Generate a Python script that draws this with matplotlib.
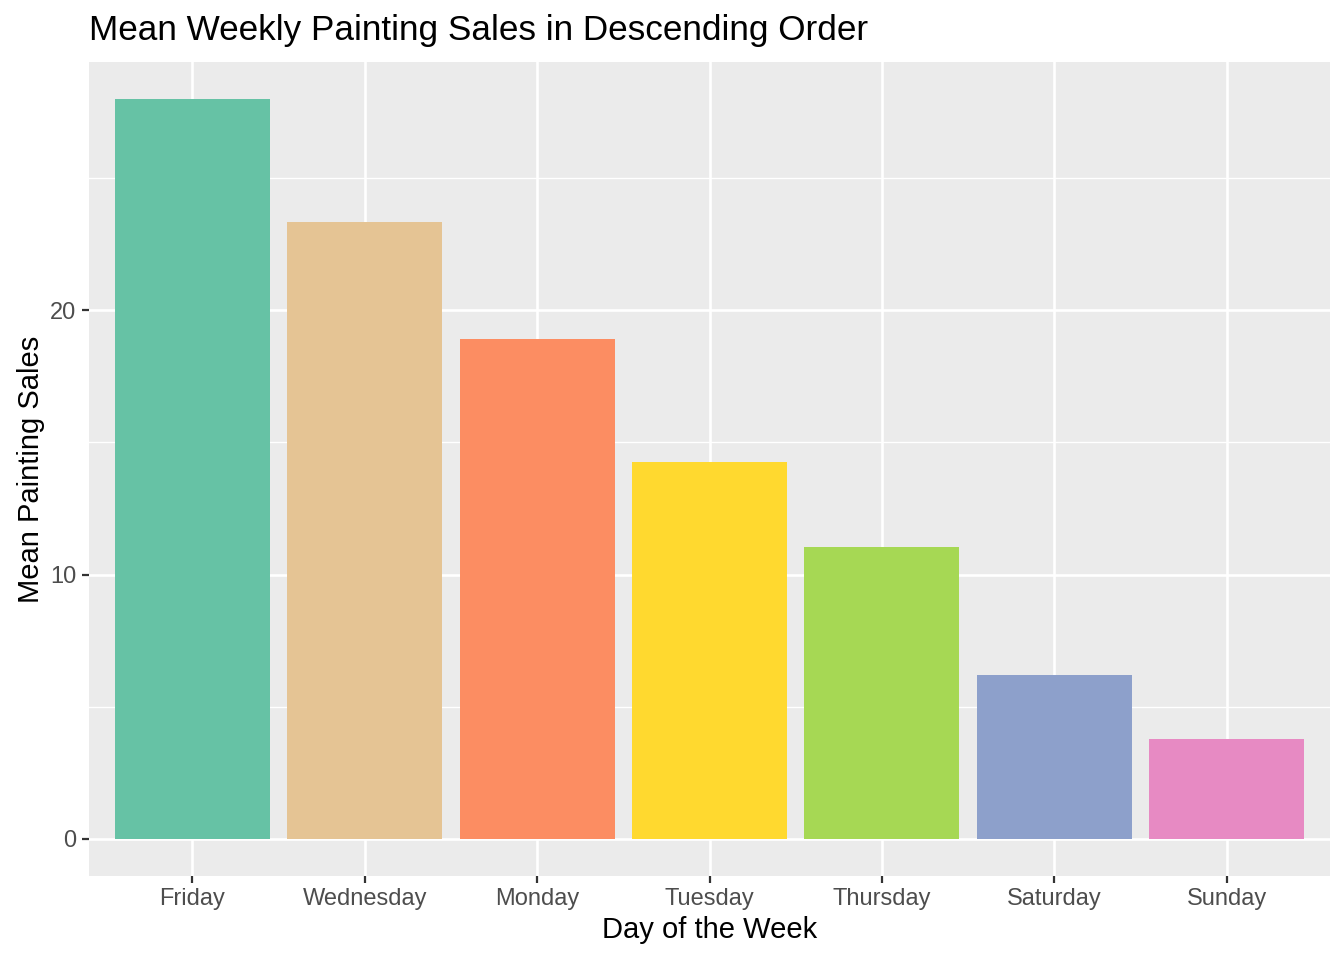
import numpy as np
import matplotlib.pyplot as plt

# Mean painting sales per weekday (sorted descending)
days = ['Friday', 'Wednesday', 'Monday', 'Tuesday', 'Thursday', 'Saturday', 'Sunday']
mean_sales = [27.98, 23.33, 18.9, 14.25, 11.04, 6.2, 3.78]
bar_colors = ['#66C2A5', '#E5C494', '#FC8D62', '#FFD92F', '#A6D854', '#8DA0CB', '#E78AC3']

plt.rcParams['font.family'] = ['Liberation Sans', 'DejaVu Sans']

fig = plt.figure(figsize=(13.44, 9.6), dpi=100)
ax = fig.add_axes([89 / 1344, 1 - 876 / 960, (1330 - 89) / 1344, (876 - 62) / 960])
ax.set_facecolor('#EBEBEB')

x = np.arange(len(days))
ax.bar(x, mean_sales, width=0.9, color=bar_colors, zorder=3)

# ggplot-like grid
ax.set_yticks([0, 10, 20])
ax.set_yticks([5, 15, 25], minor=True)
ax.set_xticks(x)
ax.set_xticklabels(days)
ax.grid(which='major', color='white', linewidth=1.9, zorder=1)
ax.grid(which='minor', axis='y', color='white', linewidth=0.95, zorder=1)
ax.set_axisbelow(True)

ax.set_xlim(-0.6, len(days) - 0.4)
ax.set_ylim(-1.40, 29.38)

for s in ax.spines.values():
    s.set_visible(False)

ax.tick_params(which='major', length=5, width=1.6, color='#333333', labelcolor='#4D4D4D', labelsize=17, pad=4)
ax.tick_params(which='minor', length=0)

ax.set_xlabel('Day of the Week', fontsize=21, color='black', labelpad=4)
ax.set_ylabel('Mean Painting Sales', fontsize=21, color='black', labelpad=4)
ax.set_title('Mean Weekly Painting Sales in Descending Order', fontsize=25.3, loc='left', pad=16)

fig.savefig('out.png', dpi=100)
